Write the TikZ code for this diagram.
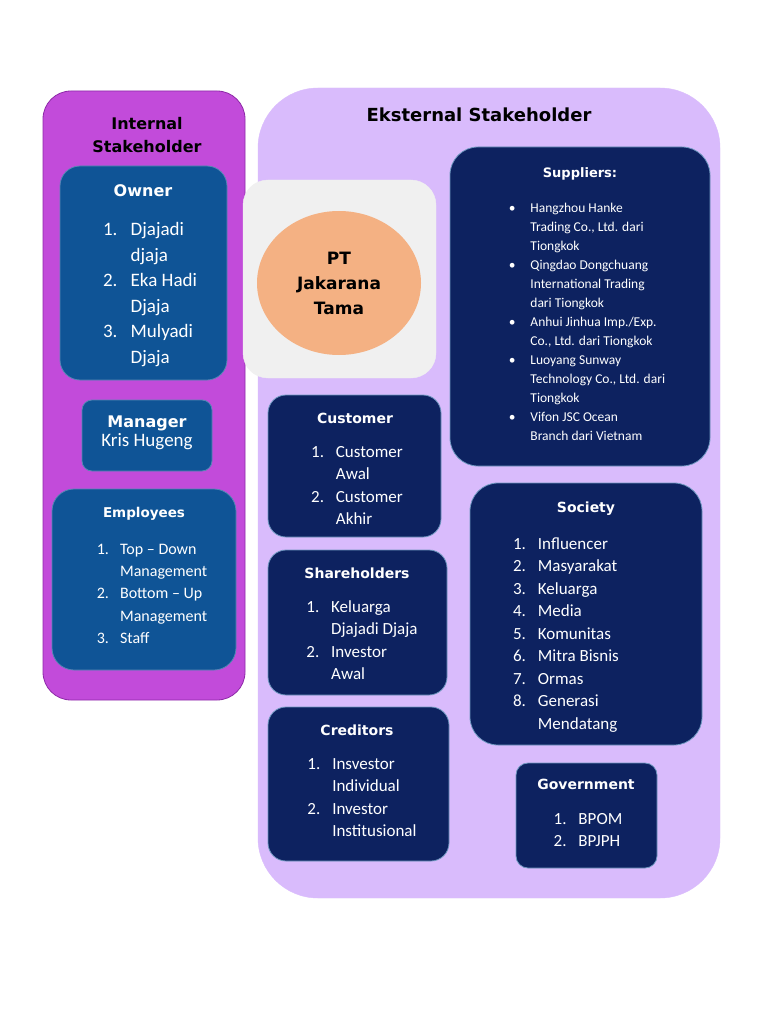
\documentclass[tikz,border=0pt]{standalone}
\usepackage{fontspec}
\setmainfont{Carlito}
\newfontfamily\hd{DejaVu Sans}
\usetikzlibrary{shapes.geometric}
\definecolor{intp}{HTML}{C24BDA}
\definecolor{intb}{HTML}{8E2AA8}
\definecolor{extp}{HTML}{D9BBFC}
\definecolor{blu}{HTML}{0F5496}
\definecolor{nav}{HTML}{0D2260}
\definecolor{peach}{HTML}{F4B183}
\newcommand{\fs}[2]{\fontsize{#1}{#2}\selectfont}
\newenvironment{nl}{\begin{tabular}{@{}r@{\hspace{0.7em}}l@{}}}{\end{tabular}}
\begin{document}
\begin{tikzpicture}[x=1pt,y=-1pt,
 bx/.style={draw=#1!60!white,line width=0.8pt,rounded corners=18pt},
 tt/.style={text=white,font=\hd\bfseries\fs{14}{17}},
 lt/.style={text=white,anchor=north,align=left}]
\useasboundingbox (0,0) rectangle (768,1024);
\fill[white] (0,0) rectangle (768,1024);
% internal
\draw[fill=intp,draw=intb,line width=0.8pt,rounded corners=28pt] (43,91) rectangle (245,700);
\node[font=\hd\bfseries\fs{16}{23},align=center] (it) at (147,135) {Internal\\Stakeholder};
% external
\draw[fill=extp,draw=extp,rounded corners=60pt] (258,88) rectangle (720,898);
\node[font=\hd\bfseries\fs{18}{22}] (et) at (479,115) {Eksternal Stakeholder};
% owner
\draw[fill=blu,draw=blu!70!white,line width=0.8pt,rounded corners=20pt] (60,166) rectangle (227,380);
\node[text=white,font=\hd\bfseries\fs{16}{19}] (ot) at (143,191) {Owner};
\node[lt,font=\fs{19}{25.6}] (ol) at (150,214) {\begin{nl}1.&Djajadi\\&djaja\\2.&Eka Hadi\\&Djaja\\3.&Mulyadi\\&Djaja\end{nl}};
% manager
\draw[fill=blu,draw=blu!70!white,line width=0.8pt,rounded corners=10pt] (82,400) rectangle (212,471);
\node[text=white,align=center] (mg) at (147,433) {{\hd\bfseries\fs{16}{19}Manager}\\[1pt]{\fs{19}{22}Kris Hugeng}};
% employees
\draw[fill=blu,draw=blu!70!white,line width=0.8pt,rounded corners=22pt] (52,489) rectangle (236,670);
\node[text=white,font=\hd\bfseries\fs{13.5}{16}] (emt) at (144,514) {Employees};
\node[lt,font=\fs{16}{22.3}] (eml) at (152,535) {\begin{nl}1.&Top -- Down\\&Management\\2.&Bottom -- Up\\&Management\\3.&Staff\end{nl}};
% PT
\draw[fill=black!6,draw=black!6,rounded corners=25pt] (243,180) rectangle (436,378);
\node[ellipse,fill=peach,minimum width=164pt,minimum height=144pt,font=\hd\bfseries\fs{17}{25},align=center] (pt) at (339,283) {PT\\Jakarana\\Tama};
% suppliers
\draw[fill=nav,draw=blu!60!white,line width=0.8pt,rounded corners=28pt] (450,147) rectangle (710,466);
\node[tt,font=\hd\bfseries\fs{13}{16}] (st) at (580,174) {Suppliers:};
\node[lt,font=\fs{13.5}{19}] (sl) at (587,196) {\begin{tabular}{@{}c@{\hspace{1.1em}}l@{}}\textbullet&Hangzhou Hanke\\&Trading Co., Ltd. dari\\&Tiongkok\\\textbullet&Qingdao Dongchuang\\&International Trading\\&dari Tiongkok\\\textbullet&Anhui Jinhua Imp./Exp.\\&Co., Ltd. dari Tiongkok\\\textbullet&Luoyang Sunway\\&Technology Co., Ltd. dari\\&Tiongkok\\\textbullet&Vifon JSC Ocean\\&Branch dari Vietnam\end{tabular}};
% customer
\draw[fill=nav,draw=blu!60!white,line width=0.8pt,rounded corners=18pt] (268,395) rectangle (441,537);
\node[tt] (ct) at (355,418) {Customer};
\node[lt,font=\fs{17}{22.4}] (cl) at (357,438) {\begin{nl}1.&Customer\\&Awal\\2.&Customer\\&Akhir\end{nl}};
% shareholders
\draw[fill=nav,draw=blu!60!white,line width=0.8pt,rounded corners=18pt] (268,550) rectangle (447,695);
\node[tt] (sht) at (357,573) {Shareholders};
\node[lt,font=\fs{17}{22.4}] (shl) at (362,593) {\begin{nl}1.&Keluarga\\&Djajadi Djaja\\2.&Investor\\&Awal\end{nl}};
% creditors
\draw[fill=nav,draw=blu!60!white,line width=0.8pt,rounded corners=18pt] (268,707) rectangle (449,861);
\node[tt] (crt) at (357,730) {Creditors};
\node[lt,font=\fs{17}{22.4}] (crl) at (362,750) {\begin{nl}1.&Insvestor\\&Individual\\2.&Investor\\&Institusional\end{nl}};
% society
\draw[fill=nav,draw=blu!60!white,line width=0.8pt,rounded corners=28pt] (470,483) rectangle (702,745);
\node[tt] (sot) at (586,509) {Society};
\node[lt,font=\fs{17}{22.5}] (sol) at (566,530) {\begin{nl}1.&Influencer\\2.&Masyarakat\\3.&Keluarga\\4.&Media\\5.&Komunitas\\6.&Mitra Bisnis\\7.&Ormas\\8.&Generasi\\&Mendatang\end{nl}};
% government
\draw[fill=nav,draw=blu!60!white,line width=0.8pt,rounded corners=12pt] (516,763) rectangle (657,868);
\node[tt] (gt) at (586,784) {Government};
\node[lt,font=\fs{17}{22.5}] (gl) at (588,805) {\begin{nl}1.&BPOM\\2.&BPJPH\end{nl}};
\end{tikzpicture}
\end{document}
